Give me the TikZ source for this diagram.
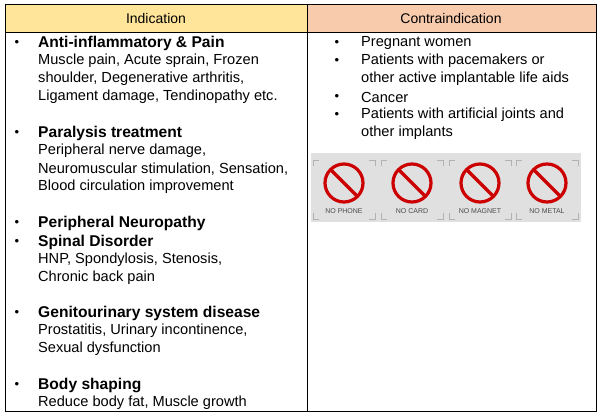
\documentclass[tikz,border=0pt]{standalone}
\usepackage{fontspec}
\setmainfont{Liberation Sans}
\usetikzlibrary{calc}
\begin{document}
\begin{tikzpicture}[x=1pt,y=-1pt,
  t/.style={anchor=west,inner sep=0pt,font=\fontsize{14.6}{16}\selectfont},
  b/.style={t,font=\fontsize{15.6}{17}\selectfont\bfseries},
  h/.style={inner sep=0pt,font=\fontsize{14}{16}\selectfont},
  bul/.style={inner sep=0pt,font=\fontsize{13}{16}\selectfont},
  nosign/.style={draw=red!80!black,line width=3.2pt,circle,minimum size=38pt,inner sep=0pt},
  lab/.style={inner sep=0pt,font=\fontsize{7}{8}\selectfont,text=black!70}]
\useasboundingbox (0,0) rectangle (600,417);
\fill[fill={rgb,255:red,255;green,229;blue,153}] (5,4) rectangle (307,32);
\fill[fill={rgb,255:red,248;green,203;blue,173}] (307,4) rectangle (596,32);
\draw[line width=0.8pt] (5,4) rectangle (596,411);
\draw[line width=0.8pt] (5,32) -- (596,32);
\draw[line width=0.8pt] (307,4) -- (307,411);
\node[h] (h1) at (156,18) {Indication};
\node[h] (h2) at (451,18) {Contraindication};
% left column
\foreach \y in {43,133,223,242,313,385} \node[bul] at (17,\y) {•};
\node[b] (a1) at (38,43) {Anti-inflammatory \& Pain};
\node[t] at (38,61) {Muscle pain, Acute sprain, Frozen};
\node[t] at (38,79) {shoulder, Degenerative arthritis,};
\node[t] at (38,97) {Ligament damage, Tendinopathy etc.};
\node[b] at (38,133) {Paralysis treatment};
\node[t] at (38,151) {Peripheral nerve damage,};
\node[t] at (38,169) {Neuromuscular stimulation, Sensation,};
\node[t] at (38,187) {Blood circulation improvement};
\node[b] at (38,223) {Peripheral Neuropathy};
\node[b] at (38,242) {Spinal Disorder};
\node[t] at (38,260) {HNP, Spondylosis, Stenosis,};
\node[t] at (38,278) {Chronic back pain};
\node[b] at (38,313) {Genitourinary system disease};
\node[t] at (38,331) {Prostatitis, Urinary incontinence,};
\node[t] at (38,349) {Sexual dysfunction};
\node[b] at (38,385) {Body shaping};
\node[t] at (38,403) {Reduce body fat, Muscle growth};
% right column
\foreach \y in {43,61,97,115} \node[bul] at (337,\y) {•};
\node[t] at (361,43) {Pregnant women};
\node[t] at (361,61) {Patients with pacemakers or};
\node[t] at (361,79) {other active implantable life aids};
\node[t] at (361,97) {Cancer};
\node[t] at (361,115) {Patients with artificial joints and};
\node[t] at (361,133) {other implants};
% sign strip
\fill[black!12] (311,153) rectangle (581,222);
\foreach \x/\l in {344/NO PHONE,412/NO CARD,480/NO MAGNET,547/NO METAL}{
  \draw[black!30,line width=0.6pt] (\x-31,166) -- (\x-31,160) -- (\x-25,160);
  \draw[black!30,line width=0.6pt] (\x+31,166) -- (\x+31,160) -- (\x+25,160);
  \draw[black!30,line width=0.6pt] (\x-31,213) -- (\x-31,219) -- (\x-25,219);
  \draw[black!30,line width=0.6pt] (\x+31,213) -- (\x+31,219) -- (\x+25,219);
  \node[nosign] (s\x) at (\x,183) {};
  \draw[red!80!black,line width=3.2pt] ($(s\x.center)+(-13,-13)$) -- ($(s\x.center)+(13,13)$);
  \node[lab] at (\x,211) {\l};
}
\end{tikzpicture}
\end{document}
